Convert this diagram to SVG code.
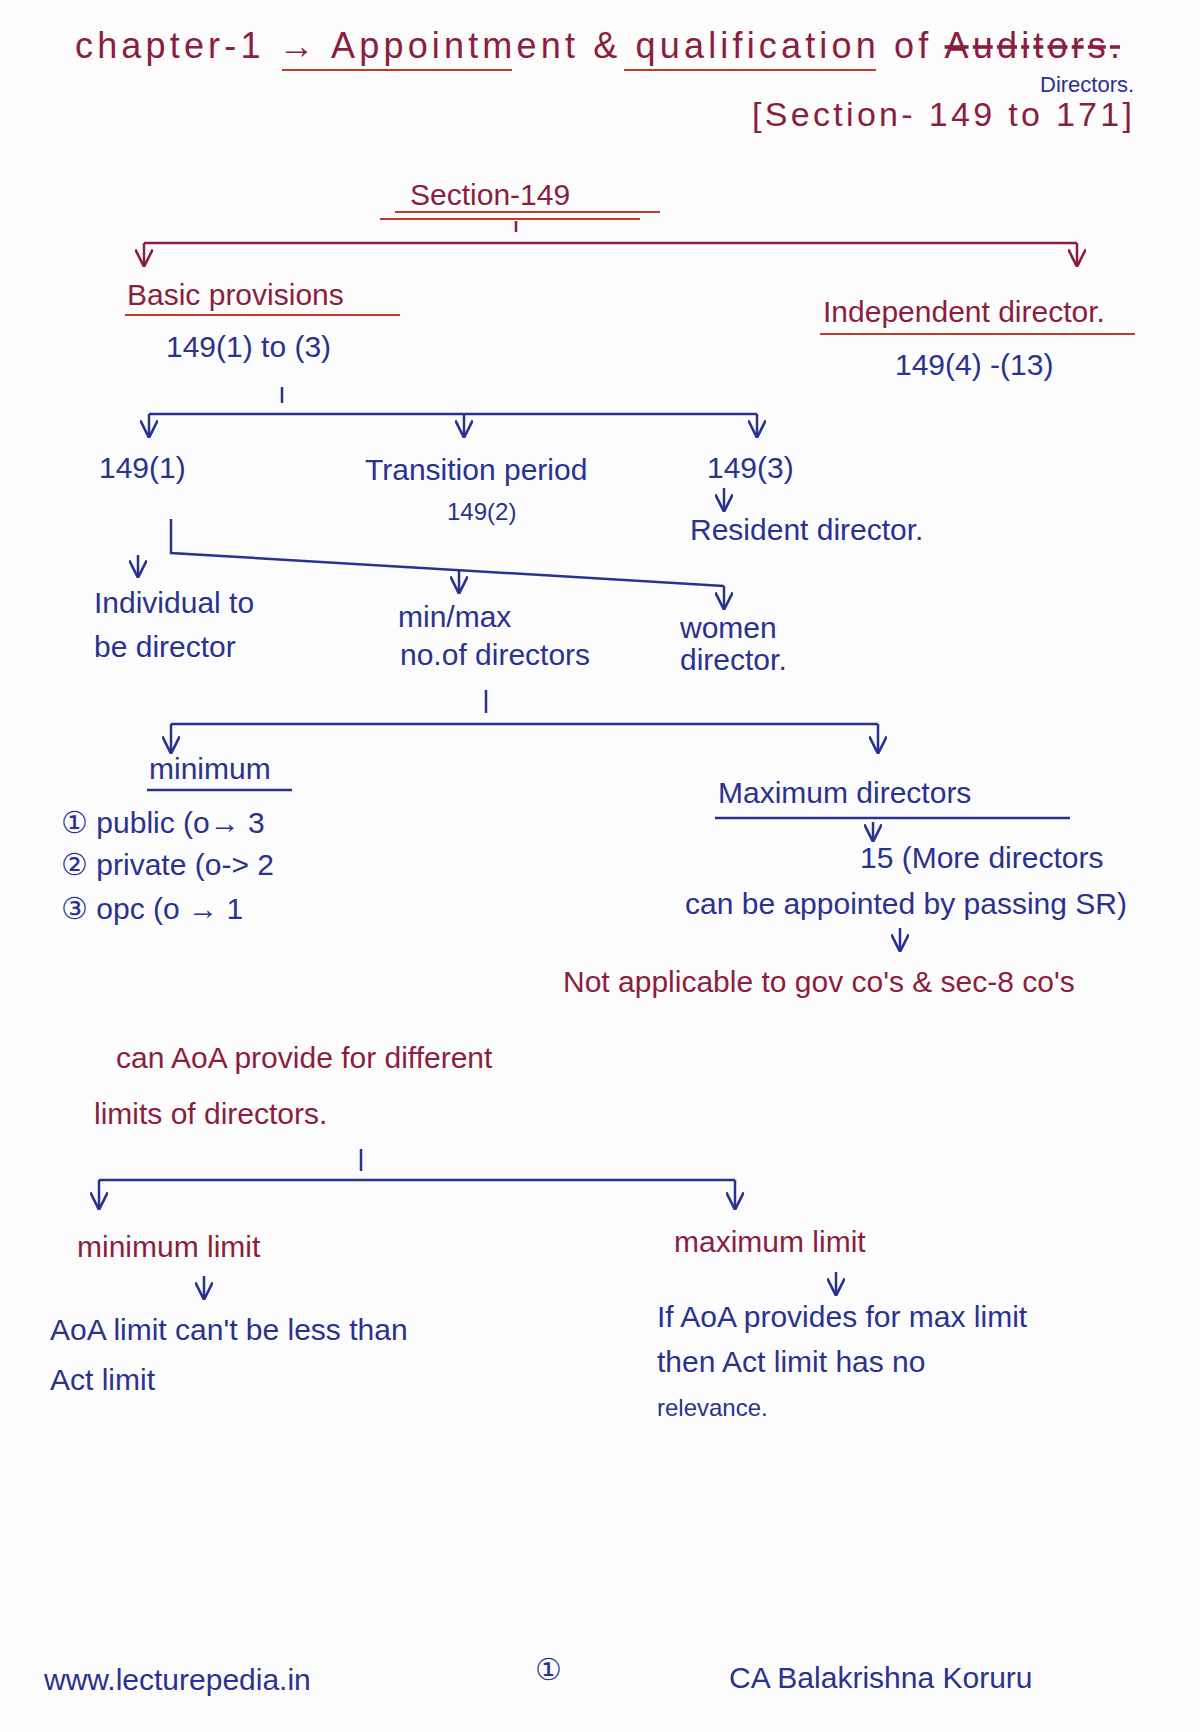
<svg xmlns="http://www.w3.org/2000/svg" width="1200" height="1732" viewBox="0 0 1200 1732">
<defs>
<marker id="ah" viewBox="0 0 10 10" refX="9" refY="5" markerWidth="7" markerHeight="7" orient="auto"><path d="M0,0 L10,5 L0,10" fill="none" stroke="#2a3290" stroke-width="1.5"/></marker>
<marker id="ahr" viewBox="0 0 10 10" refX="9" refY="5" markerWidth="7" markerHeight="7" orient="auto"><path d="M0,0 L10,5 L0,10" fill="none" stroke="#8b1e3f" stroke-width="1.5"/></marker>
</defs>
<style>
text{font-family:"Liberation Sans",Arial,sans-serif;font-size:30px;fill:#2a3290}
.m{fill:#8b1e3f}
.s{font-size:24px}
.c{stroke:#2a3290;stroke-width:2.5;fill:none}
.cr{stroke:#8b1e3f;stroke-width:2.5;fill:none}
.u{stroke:#c0392b;stroke-width:2;fill:none}
</style>
<rect width="1200" height="1732" fill="#fcfcfc"/>
<g id="title">
<text x="75" y="58" class="m" style="font-size:36px" textLength="1045" lengthAdjust="spacing">chapter-1 → Appointment &amp; qualification of <tspan text-decoration="line-through">Auditors.</tspan></text>
<text x="1040" y="92" class="s" style="font-size:22px">Directors.</text>
<text x="752" y="126" class="m" style="font-size:34px" textLength="380" lengthAdjust="spacing">[Section- 149 to 171]</text>
<path class="u" d="M282 70 H512 M624 70 H876"/>
</g>
<g id="connectors">
<path class="cr" d="M516 221 V232 M144 243 H1077"/>
<path class="cr" d="M144 243 V265" marker-end="url(#ahr)"/>
<path class="cr" d="M1077 243 V265" marker-end="url(#ahr)"/>
<path class="c" d="M282 387 V403 M149 414 H757"/>
<path class="c" d="M149 414 V436" marker-end="url(#ah)"/>
<path class="c" d="M464 414 V436" marker-end="url(#ah)"/>
<path class="c" d="M757 414 V436" marker-end="url(#ah)"/>
<path class="c" d="M724 488 V510" marker-end="url(#ah)"/>
<path class="c" d="M171 519 V553 L724 586"/>
<path class="c" d="M138 555 V576" marker-end="url(#ah)"/>
<path class="c" d="M459 570 V592" marker-end="url(#ah)"/>
<path class="c" d="M724 586 V608" marker-end="url(#ah)"/>
<path class="c" d="M486 690 V713 M171 724 H878"/>
<path class="c" d="M171 724 V752" marker-end="url(#ah)"/>
<path class="c" d="M878 724 V752" marker-end="url(#ah)"/>
<path class="c" d="M873 822 V840" marker-end="url(#ah)"/>
<path class="c" d="M900 928 V950" marker-end="url(#ah)"/>
<path class="c" d="M361 1149 V1171 M99 1180 H735"/>
<path class="c" d="M99 1180 V1208" marker-end="url(#ah)"/>
<path class="c" d="M735 1180 V1208" marker-end="url(#ah)"/>
<path class="c" d="M204 1276 V1298" marker-end="url(#ah)"/>
<path class="c" d="M836 1272 V1294" marker-end="url(#ah)"/>
</g>
<g id="section149"><text x="410" y="205" class="m">Section-149</text><path class="u" d="M395 212 H660 M380 219 H640"/></g>
<g id="basic"><text x="127" y="305" class="m">Basic provisions</text><text x="166" y="357">149(1) to (3)</text><path class="u" d="M125 315 H400"/></g>
<g id="independent"><text x="823" y="322" class="m">Independent director.</text><path class="u" d="M820 334 H1135"/><text x="895" y="375">149(4) -(13)</text></g>
<g id="n1491"><text x="99" y="478">149(1)</text></g>
<g id="transition"><text x="365" y="480">Transition period</text><text x="447" y="520" class="s">149(2)</text></g>
<g id="n1493"><text x="707" y="478">149(3)</text><text x="690" y="540">Resident director.</text></g>
<g id="individual"><text x="94" y="613">Individual to</text><text x="94" y="657">be director</text></g>
<g id="minmax"><text x="398" y="627">min/max</text><text x="400" y="665">no.of directors</text></g>
<g id="women"><text x="680" y="638">women</text><text x="680" y="670">director.</text></g>
<g id="minimum"><text x="149" y="779">minimum</text><path class="c" d="M147 790 H292"/>
<text x="61" y="833">① public (o→ 3</text><text x="61" y="875">② private (o-&gt; 2</text><text x="61" y="919">③ opc      (o → 1</text></g>
<g id="maximum"><text x="718" y="803">Maximum directors</text><path class="c" d="M715 818 H1070"/>
<text x="860" y="868">15 (More directors</text><text x="685" y="914">can be appointed by passing SR)</text>
<text x="563" y="992" class="m">Not applicable to gov co's &amp; sec-8 co's</text></g>
<g id="aoa"><text x="116" y="1068" class="m">can AoA provide for different</text><text x="94" y="1124" class="m">limits of directors.</text></g>
<g id="minlimit"><text x="77" y="1257" class="m">minimum limit</text><text x="50" y="1340">AoA limit can't be less than</text><text x="50" y="1390">Act limit</text></g>
<g id="maxlimit"><text x="674" y="1252" class="m">maximum limit</text><text x="657" y="1327">If AoA provides for max limit</text><text x="657" y="1372">then Act limit has no</text><text x="657" y="1416" class="s">relevance.</text></g>
<g id="footer"><text x="44" y="1690">www.lecturepedia.in</text><text x="535" y="1680">①</text><text x="729" y="1688">CA Balakrishna Koruru</text></g>
</svg>
